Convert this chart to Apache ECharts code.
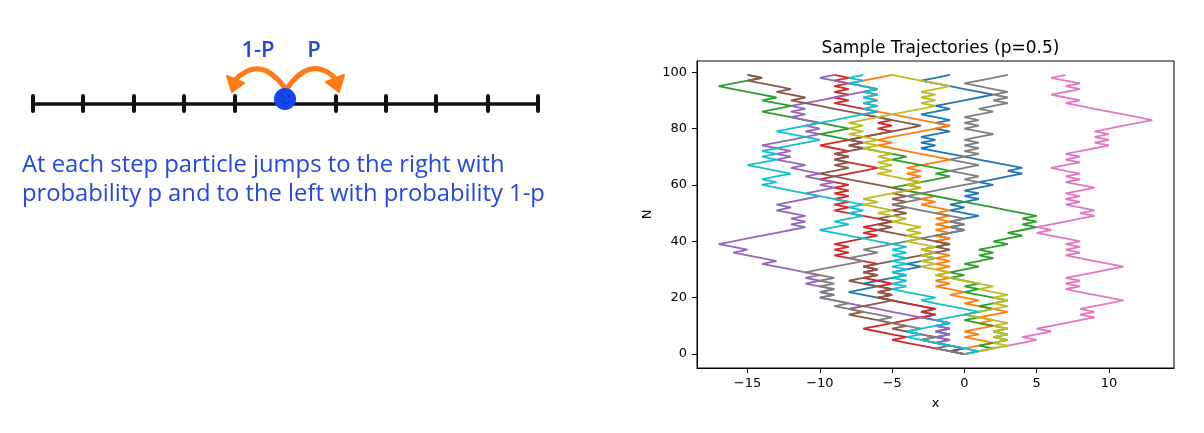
<!DOCTYPE html>
<html>
<head>
<meta charset="utf-8">
<script src="https://cdn.jsdelivr.net/npm/echarts@6/dist/echarts.min.js"></script>
<style>
html,body{margin:0;padding:0;background:#fff;}
#chart{width:1204px;height:433px;}
</style>
</head>
<body>
<div id="chart"></div>
<script>
// ---- data (x position at each step N = 0..99) ----
const steps = [0,1,2,3,4,5,6,7,8,9,10,11,12,13,14,15,16,17,18,19,20,21,22,23,24,25,26,27,28,29,30,31,32,33,34,35,36,37,38,39,40,41,42,43,44,45,46,47,48,49,50,51,52,53,54,55,56,57,58,59,60,61,62,63,64,65,66,67,68,69,70,71,72,73,74,75,76,77,78,79,80,81,82,83,84,85,86,87,88,89,90,91,92,93,94,95,96,97,98,99];
const walk0 = [0,-1,0,-1,-2,-1,-2,-1,-2,-1,-2,-1,-2,-3,-2,-3,-2,-3,-4,-5,-6,-7,-8,-7,-6,-7,-6,-5,-4,-5,-4,-3,-4,-3,-2,-3,-2,-3,-2,-1,-2,-1,-2,-1,0,-1,0,-1,0,1,0,-1,0,-1,0,1,0,1,0,1,2,1,2,3,4,3,4,3,2,1,0,-1,-2,-3,-2,-3,-2,-3,-2,-1,-2,-1,-2,-1,-2,-3,-2,-1,-2,-1,0,1,2,1,0,-1,-2,-3,-2,-1];
const walk1 = [0,1,0,1,2,1,0,1,0,1,2,1,2,1,2,3,2,1,0,1,0,-1,0,-1,-2,-1,-2,-1,-2,-1,-2,-1,-2,-1,-2,-1,-2,-3,-2,-1,-2,-1,-2,-1,-2,-1,-2,-1,-2,-1,-2,-1,-2,-3,-2,-3,-2,-3,-4,-3,-4,-3,-4,-3,-4,-3,-4,-3,-2,-1,-2,-3,-4,-5,-6,-5,-6,-5,-4,-3,-2,-1,-2,-3,-4,-5,-6,-7,-6,-7,-6,-7,-6,-7,-6,-7,-8,-7,-6,-5];
const walk2 = [0,1,2,1,2,3,2,3,2,3,2,1,0,1,0,1,2,1,2,3,2,1,0,1,0,1,0,-1,0,-1,0,1,0,1,2,1,2,1,2,3,2,3,4,3,4,5,4,5,4,5,4,3,2,1,0,-1,-2,-3,-4,-5,-4,-3,-2,-1,-2,-1,-2,-3,-4,-5,-4,-5,-6,-7,-8,-7,-8,-9,-10,-9,-8,-9,-10,-11,-12,-13,-14,-13,-12,-13,-14,-13,-14,-15,-16,-17,-16,-15,-14,-15];
const walk3 = [0,-1,-2,-3,-4,-5,-4,-5,-6,-7,-6,-5,-4,-3,-2,-3,-2,-3,-4,-5,-6,-5,-6,-5,-6,-5,-6,-7,-6,-7,-6,-7,-6,-7,-8,-9,-8,-9,-8,-9,-8,-7,-6,-7,-6,-7,-6,-5,-6,-7,-8,-9,-8,-9,-8,-9,-8,-9,-8,-9,-8,-9,-10,-9,-8,-7,-6,-7,-8,-9,-8,-9,-8,-9,-10,-9,-8,-7,-6,-5,-6,-5,-6,-5,-6,-7,-6,-7,-8,-9,-8,-9,-8,-9,-8,-9,-8,-9,-8,-9];
const walk4 = [0,-1,-2,-1,-2,-1,-2,-1,-2,-1,-2,-1,-2,-3,-4,-5,-6,-7,-8,-9,-10,-9,-10,-9,-10,-11,-10,-11,-10,-11,-12,-13,-14,-13,-14,-15,-16,-15,-16,-17,-16,-15,-14,-13,-12,-11,-12,-11,-12,-11,-12,-13,-12,-13,-12,-11,-10,-11,-10,-9,-10,-9,-10,-11,-10,-11,-12,-11,-12,-13,-12,-13,-12,-13,-14,-13,-12,-11,-10,-11,-10,-11,-10,-11,-12,-11,-12,-11,-12,-11,-10,-9,-8,-7,-6,-7,-8,-9,-10,-9];
const walk5 = [0,-1,0,-1,-2,-3,-2,-3,-4,-5,-4,-5,-6,-7,-8,-7,-8,-7,-6,-5,-6,-5,-6,-5,-6,-7,-8,-7,-6,-7,-6,-7,-6,-5,-4,-3,-2,-1,-2,-1,-2,-3,-4,-5,-6,-5,-6,-5,-6,-5,-4,-5,-4,-5,-4,-5,-4,-5,-4,-5,-6,-7,-8,-9,-10,-9,-8,-9,-8,-9,-8,-9,-8,-7,-8,-7,-8,-7,-6,-5,-4,-3,-4,-5,-6,-7,-8,-9,-10,-11,-12,-11,-12,-13,-12,-13,-14,-15,-14,-15];
const walk6 = [0,1,2,3,4,5,4,5,6,5,6,7,8,9,8,9,8,9,10,11,10,9,8,7,8,7,8,7,8,9,10,11,10,9,8,7,8,7,8,7,8,7,6,5,6,5,6,7,8,9,8,9,8,7,8,7,8,7,8,9,8,7,8,7,8,7,6,7,8,7,8,7,8,9,10,9,10,9,10,9,10,11,12,13,12,11,10,9,8,7,8,7,6,7,8,7,8,7,6,7];
const walk7 = [0,-1,-2,-1,-2,-3,-2,-3,-4,-3,-4,-5,-6,-5,-6,-7,-8,-9,-8,-9,-10,-9,-10,-9,-10,-9,-10,-9,-10,-11,-10,-9,-8,-7,-8,-7,-6,-7,-6,-5,-4,-3,-2,-1,0,-1,0,-1,0,-1,-2,-3,-4,-5,-4,-3,-4,-3,-2,-1,0,1,0,1,0,-1,0,1,0,-1,0,1,0,1,0,1,0,1,2,1,0,1,0,1,0,1,2,1,2,3,2,3,2,3,2,1,0,1,2,3];
const walk8 = [0,1,2,3,2,3,2,3,2,3,2,3,2,1,0,1,2,3,2,3,2,3,2,1,2,1,0,-1,-2,-1,-2,-3,-2,-3,-2,-3,-2,-3,-2,-3,-4,-3,-4,-3,-4,-3,-4,-5,-4,-5,-6,-5,-6,-7,-6,-7,-6,-5,-4,-3,-4,-3,-4,-5,-6,-5,-6,-5,-6,-5,-6,-5,-6,-7,-6,-7,-6,-7,-8,-7,-8,-7,-8,-7,-6,-5,-4,-3,-2,-3,-2,-3,-2,-3,-2,-1,-2,-3,-4,-5];
const walk9 = [0,1,0,-1,-2,-3,-4,-3,-4,-3,-2,-1,-2,-1,0,1,0,-1,-2,-3,-2,-3,-4,-5,-4,-5,-4,-5,-4,-5,-4,-5,-4,-5,-4,-5,-4,-5,-4,-5,-6,-7,-8,-9,-10,-9,-8,-9,-8,-7,-8,-7,-8,-7,-8,-9,-10,-11,-12,-13,-14,-13,-14,-13,-12,-13,-14,-15,-14,-13,-14,-13,-14,-13,-12,-11,-10,-11,-12,-13,-12,-11,-10,-9,-8,-7,-6,-7,-6,-7,-6,-7,-6,-7,-6,-7,-8,-7,-8,-7];
const walks = [walk0, walk1, walk2, walk3, walk4, walk5, walk6, walk7, walk8, walk9];
const walkColors = ['#1f77b4','#ff7f0e','#2ca02c','#d62728','#9467bd','#8c564b','#e377c2','#7f7f7f','#bcbd22','#17becf'];
const xTicks = [-15,-10,-5,0,5,10];
const yTicks = [0,20,40,60,80,100];
const titleText = 'Sample Trajectories (p=0.5)';
const noteLines = ['At each step particle jumps to the right with', 'probability p and to the left with probability 1-p'];
const lineTickXs = [33,83,134,184,235,336,386,436,488,538];

// ---- helpers ----
const handFont = '"Open Sans", "Noto Sans", sans-serif';
function fitSize(text, width, family){
  const c = document.createElement('canvas').getContext('2d');
  c.font = '100px ' + family;
  return 100 * width / c.measureText(text).width;
}
const noteSize = Math.min(fitSize(noteLines[0], 497, handFont), fitSize(noteLines[1], 523, handFont));
const minus = v => String(v).replace('-', '\u2212');
const blueInk = '#2447e2';
const orangeInk = '#ff7a14';

const graphics = [];
// number line
graphics.push({type:'line', shape:{x1:33,y1:104,x2:538,y2:104}, style:{stroke:'#111',lineWidth:3.5}});
lineTickXs.forEach(x => graphics.push({type:'line', shape:{x1:x,y1:96,x2:x,y2:111}, style:{stroke:'#111',lineWidth:4,lineCap:'round'}}));
// arcs and arrowheads
graphics.push({type:'bezierCurve', shape:{x1:284,y1:87,x2:234,y2:81,cpx1:260,cpy1:54}, style:{stroke:orangeInk,lineWidth:5,fill:null,lineCap:'round'}});
graphics.push({type:'bezierCurve', shape:{x1:288,y1:87,x2:337,y2:80,cpx1:312,cpy1:54}, style:{stroke:orangeInk,lineWidth:5,fill:null,lineCap:'round'}});
graphics.push({type:'polygon', shape:{points:[[227,76],[244,83],[232,92]]}, style:{fill:orangeInk,stroke:orangeInk,lineWidth:2,lineJoin:'round'}});
graphics.push({type:'polygon', shape:{points:[[326,82],[344,75],[339,92]]}, style:{fill:orangeInk,stroke:orangeInk,lineWidth:2,lineJoin:'round'}});
// particle
graphics.push({type:'circle', shape:{cx:285,cy:99,r:11}, style:{fill:'#1446ee'}});
graphics.push({type:'circle', shape:{cx:282,cy:96,r:0.9}, style:{fill:'#0a2a90'}});
graphics.push({type:'circle', shape:{cx:289,cy:96,r:0.9}, style:{fill:'#0a2a90'}});
graphics.push({type:'arc', shape:{cx:286,cy:100,r:3.5,startAngle:0.3,endAngle:2.8}, style:{stroke:'#0a2a90',lineWidth:1,fill:null}});
// labels
graphics.push({type:'text', x:258, y:51, style:{text:'1-P', font:'600 22px ' + handFont, fill:blueInk, align:'center', verticalAlign:'middle'}});
graphics.push({type:'text', x:314, y:51, style:{text:'P', font:'600 22px ' + handFont, fill:blueInk, align:'center', verticalAlign:'middle'}});
graphics.push({type:'text', x:22, y:165, style:{text:noteLines[0], font:noteSize.toFixed(2) + 'px ' + handFont, fill:blueInk, align:'left', verticalAlign:'middle'}});
graphics.push({type:'text', x:22, y:194, style:{text:noteLines[1], font:noteSize.toFixed(2) + 'px ' + handFont, fill:blueInk, align:'left', verticalAlign:'middle'}});

const chart = echarts.init(document.getElementById('chart'), null, {renderer:'canvas'});
const axisFont = 'DejaVu Sans';
chart.setOption({
  animation:false,
  backgroundColor:'#fff',
  title:{text:titleText, left:935.5, top:35, textAlign:'center',
    textStyle:{fontFamily:axisFont, fontSize:17, fontWeight:'normal', color:'#000'}},
  grid:{left:697, right:30, top:61, bottom:65, show:true, borderColor:'#000', borderWidth:1, backgroundColor:'transparent'},
  xAxis:{type:'value', min:-18.5, max:14.5,
    name:'x', nameLocation:'middle', nameGap:29,
    nameTextStyle:{fontFamily:axisFont, fontSize:13, color:'#000'},
    axisLine:{show:true, onZero:false, lineStyle:{color:'#000', width:1}},
    axisTick:{show:true, inside:false, length:5, customValues:xTicks, lineStyle:{color:'#000', width:1}},
    axisLabel:{customValues:xTicks, margin:9, fontFamily:axisFont, fontSize:13, color:'#000', formatter:minus},
    splitLine:{show:false}},
  yAxis:{type:'value', min:-4.95, max:103.95,
    name:'N', nameLocation:'middle', nameGap:43, nameRotate:90,
    nameTextStyle:{fontFamily:axisFont, fontSize:13, color:'#000'},
    axisLine:{show:true, onZero:false, lineStyle:{color:'#000', width:1}},
    axisTick:{show:true, inside:false, length:5, customValues:yTicks, lineStyle:{color:'#000', width:1}},
    axisLabel:{customValues:yTicks, margin:10, fontFamily:axisFont, fontSize:13, color:'#000', formatter:minus},
    splitLine:{show:false}},
  series: walks.map((w, k) => ({
    type:'line', showSymbol:false, symbol:'none', silent:true,
    data: steps.map(n => [w[n], n]),
    lineStyle:{color:walkColors[k], width:1.8},
    itemStyle:{color:walkColors[k]}
  })),
  graphic: graphics
});
</script>
</body>
</html>
